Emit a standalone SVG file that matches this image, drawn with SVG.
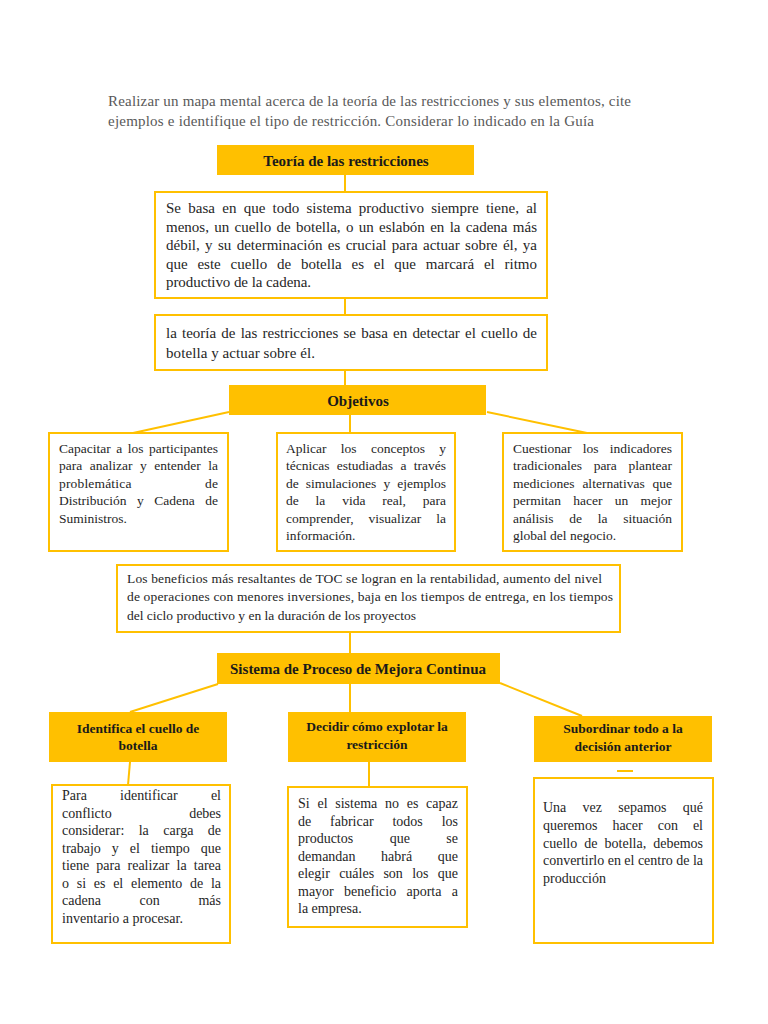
<svg xmlns="http://www.w3.org/2000/svg" width="768" height="1024" viewBox="0 0 768 1024">
<style>
.bg{fill:#ffffff}
.hdr{fill:#FFC000}
.box{fill:#ffffff;stroke:#FFC000;stroke-width:2}
.conn{stroke:#FFC000;stroke-width:2;fill:none}
.t{font-family:"Liberation Serif","Times New Roman",serif;fill:#262626}
.s15{font-size:15px}
.s135{font-size:13.5px}
.s14{font-size:14px}
.b{font-weight:bold;fill:#1a1a1a;text-anchor:middle}
.title{font-family:"Liberation Serif","Times New Roman",serif;font-size:15px;fill:#595959}
</style>
<rect class="bg" x="0" y="0" width="768" height="1024"/>
<g id="title">
<text class="title" x="108" y="106" textLength="523">Realizar un mapa mental acerca de la teoría de las restricciones y sus elementos, cite</text>
<text class="title" x="108" y="126" textLength="486">ejemplos e identifique el tipo de restricción. Considerar lo indicado en la Guía</text>
</g>
<g id="connectors">
<line class="conn" x1="345" y1="175" x2="345" y2="192"/>
<line class="conn" x1="345" y1="298" x2="345" y2="315"/>
<line class="conn" x1="345" y1="370" x2="345" y2="385"/>
<line class="conn" x1="229" y1="412" x2="133" y2="433"/>
<line class="conn" x1="350" y1="415" x2="350" y2="433"/>
<line class="conn" x1="487" y1="412" x2="587" y2="433"/>
<line class="conn" x1="350" y1="632" x2="350" y2="653"/>
<line class="conn" x1="218" y1="684" x2="130" y2="712"/>
<line class="conn" x1="350" y1="684" x2="350" y2="712"/>
<line class="conn" x1="500" y1="683" x2="582" y2="716"/>
<line class="conn" x1="130" y1="762" x2="128" y2="785"/>
<line class="conn" x1="369" y1="762" x2="369" y2="787"/>
<line class="conn" x1="617" y1="771" x2="633" y2="771"/>
</g>
<g id="teoria">
<rect class="hdr" x="217" y="145" width="257" height="30"/>
<text class="t s15 b" x="346" y="166">Teoría de las restricciones</text>
</g>
<g id="definicion">
<rect class="box" x="155" y="192" width="392" height="106"/>
<text class="t s15" x="166" y="213" textLength="371" word-spacing="3.5">Se basa en que todo sistema productivo siempre tiene, al</text>
<text class="t s15" x="166" y="231.5" textLength="371" word-spacing="1.6">menos, un cuello de botella, o un eslabón en la cadena más</text>
<text class="t s15" x="166" y="250" textLength="371" word-spacing="1.6">débil, y su determinación es crucial para actuar sobre él, ya</text>
<text class="t s15" x="166" y="268.5" textLength="371" word-spacing="6">que este cuello de botella es el que marcará el ritmo</text>
<text class="t s15" x="166" y="287" textLength="145">productivo de la cadena.</text>
</g>
<g id="resumen">
<rect class="box" x="155" y="315" width="392" height="55"/>
<text class="t s15" x="166" y="338" textLength="371" word-spacing="1.5">la teoría de las restricciones se basa en detectar el cuello de</text>
<text class="t s15" x="166" y="358" textLength="149">botella y actuar sobre él.</text>
</g>
<g id="objetivos">
<rect class="hdr" x="229" y="385" width="257" height="30"/>
<text class="t s15 b" x="358" y="406">Objetivos</text>
</g>
<g id="obj1">
<rect class="box" x="49" y="433" width="179" height="118"/>
<text class="t s135" x="59" y="453" textLength="159" word-spacing="2.1">Capacitar a los participantes</text>
<text class="t s135" x="59" y="470" textLength="159" word-spacing="4.1">para analizar y entender la</text>
<text class="t s135" x="59" y="487.5" textLength="159" word-spacing="70">problemática de</text>
<text class="t s135" x="59" y="505" textLength="159" word-spacing="7.1">Distribución y Cadena de</text>
<text class="t s135" x="59" y="522.5">Suministros.</text>
</g>
<g id="obj2">
<rect class="box" x="277" y="433" width="178" height="118"/>
<text class="t s135" x="286" y="453" textLength="160" word-spacing="11">Aplicar los conceptos y</text>
<text class="t s135" x="286" y="470" textLength="160" word-spacing="4">técnicas estudiadas a través</text>
<text class="t s135" x="286" y="487.5" textLength="160" word-spacing="3.7">de simulaciones y ejemplos</text>
<text class="t s135" x="286" y="505" textLength="160" word-spacing="13.5">de la vida real, para</text>
<text class="t s135" x="286" y="522.5" textLength="160" word-spacing="11.6">comprender, visualizar la</text>
<text class="t s135" x="286" y="540">información.</text>
</g>
<g id="obj3">
<rect class="box" x="503" y="433" width="179" height="118"/>
<text class="t s135" x="513" y="453" textLength="159" word-spacing="7.9">Cuestionar los indicadores</text>
<text class="t s135" x="513" y="470" textLength="159" word-spacing="8.3">tradicionales para plantear</text>
<text class="t s135" x="513" y="487.5" textLength="159" word-spacing="4.5">mediciones alternativas que</text>
<text class="t s135" x="513" y="505" textLength="159" word-spacing="8.9">permitan hacer un mejor</text>
<text class="t s135" x="513" y="522.5" textLength="159" word-spacing="12.4">análisis de la situación</text>
<text class="t s135" x="513" y="540">global del negocio.</text>
</g>
<g id="beneficios">
<rect class="box" x="117" y="565" width="503" height="67"/>
<text class="t s135" x="127" y="583" textLength="475">Los beneficios más resaltantes de TOC se logran en la rentabilidad, aumento del nivel</text>
<text class="t s135" x="127" y="601" textLength="486">de operaciones con menores inversiones, baja en los tiempos de entrega, en los tiempos</text>
<text class="t s135" x="127" y="619.5">del ciclo productivo y en la duración de los proyectos</text>
</g>
<g id="sistema">
<rect class="hdr" x="217" y="653" width="283" height="31"/>
<text class="t s15 b" x="358" y="674">Sistema de Proceso de Mejora Continua</text>
</g>
<g id="identifica">
<rect class="hdr" x="49" y="712" width="178" height="50"/>
<text class="t s135 b" x="138" y="733">Identifica el cuello de</text>
<text class="t s135 b" x="138" y="750">botella</text>
</g>
<g id="decidir">
<rect class="hdr" x="288" y="712" width="178" height="50"/>
<text class="t s135 b" x="377" y="731">Decidir cómo explotar la</text>
<text class="t s135 b" x="377" y="748.5">restricción</text>
</g>
<g id="subordinar">
<rect class="hdr" x="534" y="716" width="178" height="46"/>
<text class="t s135 b" x="623" y="732.5">Subordinar todo a la</text>
<text class="t s135 b" x="623" y="750.5">decisión anterior</text>
</g>
<g id="para">
<rect class="box" x="52" y="785" width="178" height="158"/>
<text class="t s14" x="62" y="800" textLength="159" word-spacing="29.7">Para identificar el</text>
<text class="t s14" x="62" y="817.5" textLength="159" word-spacing="74">conflicto debes</text>
<text class="t s14" x="62" y="835" textLength="159" word-spacing="10.9">considerar: la carga de</text>
<text class="t s14" x="62" y="852.5" textLength="159" word-spacing="7.5">trabajo y el tiempo que</text>
<text class="t s14" x="62" y="870" textLength="159" word-spacing="3.6">tiene para realizar la tarea</text>
<text class="t s14" x="62" y="887.5" textLength="159" word-spacing="4.2">o si es el elemento de la</text>
<text class="t s14" x="62" y="905" textLength="159" word-spacing="35.2">cadena con más</text>
<text class="t s14" x="62" y="922.5" textLength="121">inventario a procesar.</text>
</g>
<g id="si">
<rect class="box" x="288" y="787" width="179" height="140"/>
<text class="t s14" x="298" y="808" textLength="160" word-spacing="4.2">Si el sistema no es capaz</text>
<text class="t s14" x="298" y="825.5" textLength="160" word-spacing="15.4">de fabricar todos los</text>
<text class="t s14" x="298" y="843" textLength="160" word-spacing="33">productos que se</text>
<text class="t s14" x="298" y="860.5" textLength="160" word-spacing="22">demandan habrá que</text>
<text class="t s14" x="298" y="878" textLength="160" word-spacing="5.8">elegir cuáles son los que</text>
<text class="t s14" x="298" y="895.5" textLength="160" word-spacing="6.8">mayor beneficio aporta a</text>
<text class="t s14" x="298" y="913">la empresa.</text>
</g>
<g id="una">
<rect class="box" x="534" y="778" width="179" height="165"/>
<text class="t s14" x="543" y="812" textLength="160" word-spacing="12.8">Una vez sepamos qué</text>
<text class="t s14" x="543" y="830" textLength="160" word-spacing="11.5">queremos hacer con el</text>
<text class="t s14" x="543" y="847.5" textLength="160" word-spacing="3.6">cuello de botella, debemos</text>
<text class="t s14" x="543" y="865" textLength="160">convertirlo en el centro de la</text>
<text class="t s14" x="543" y="883">producción</text>
</g>
</svg>
